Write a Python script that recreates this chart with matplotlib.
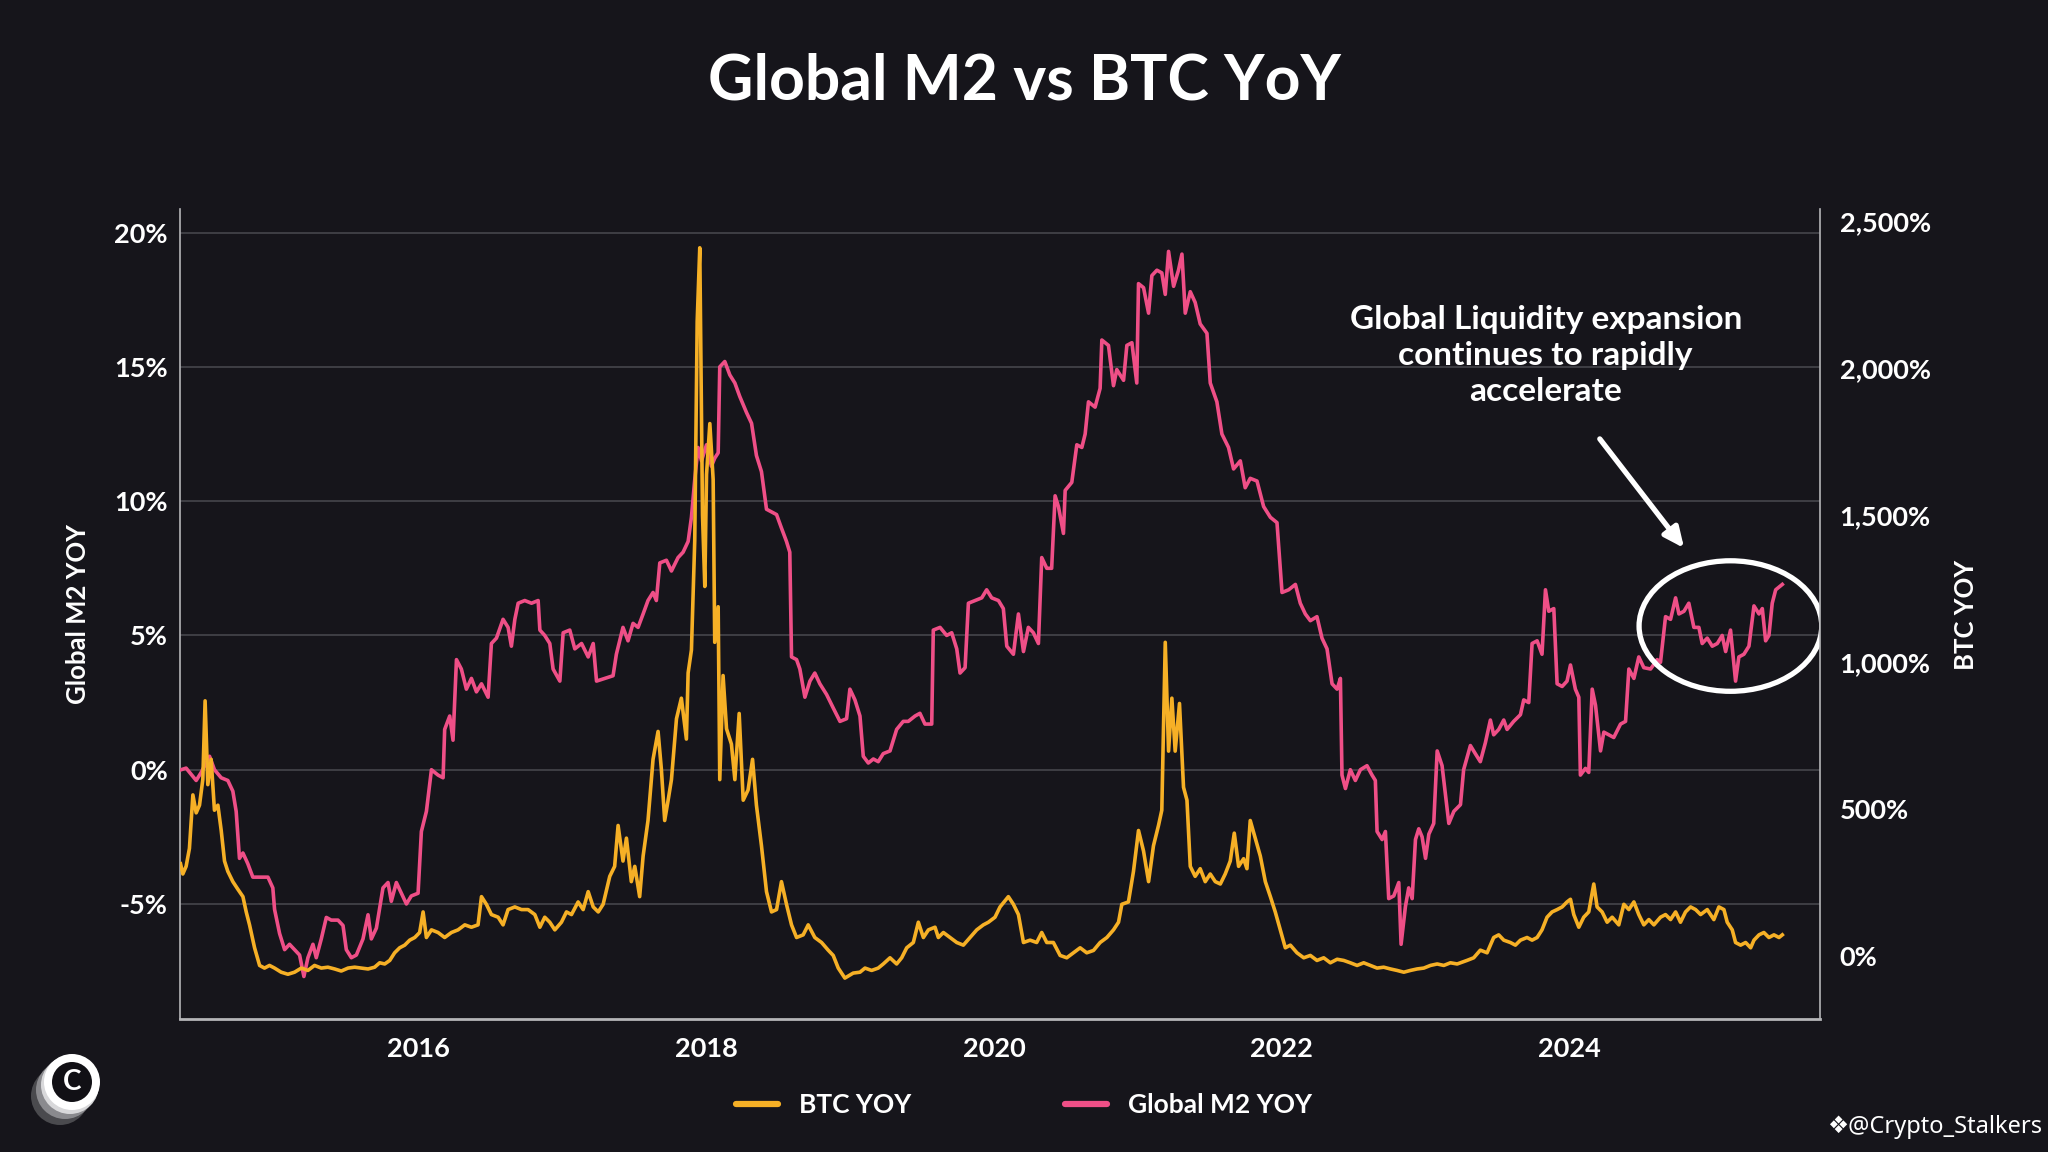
import matplotlib.pyplot as plt
from matplotlib.patches import Ellipse

# colours
BG = "#16151b"
PINK = "#ef4f87"
ORANGE = "#f6b026"
SPINE = "#b5b5b8"
GRID = "#4a4a50"

# Global M2 YoY (%) - decimal year / value
m2_years = [
    2014.346, 2014.381, 2014.451, 2014.486, 2014.544, 2014.578, 2014.625, 2014.671,
    2014.706, 2014.729, 2014.752, 2014.776, 2014.810, 2014.845, 2014.903, 2014.950,
    2014.984, 2014.996, 2015.031, 2015.066, 2015.100, 2015.135, 2015.170, 2015.200,
    2015.228, 2015.263, 2015.286, 2015.321, 2015.356, 2015.390, 2015.437, 2015.472,
    2015.495, 2015.530, 2015.565, 2015.611, 2015.646, 2015.669, 2015.704, 2015.750,
    2015.785, 2015.808, 2015.843, 2015.878, 2015.913, 2015.947, 2015.994, 2016.017,
    2016.052, 2016.087, 2016.133, 2016.168, 2016.179, 2016.214, 2016.237, 2016.261,
    2016.295, 2016.330, 2016.365, 2016.400, 2016.435, 2016.481, 2016.504, 2016.539,
    2016.585, 2016.620, 2016.643, 2016.667, 2016.690, 2016.736, 2016.783, 2016.829,
    2016.841, 2016.875, 2016.910, 2016.933, 2016.980, 2017.003, 2017.049, 2017.084,
    2017.131, 2017.177, 2017.212, 2017.235, 2017.293,
    2017.350, 2017.373, 2017.419, 2017.454, 2017.489, 2017.524, 2017.559, 2017.593,
    2017.628, 2017.651, 2017.675, 2017.721, 2017.756, 2017.802, 2017.837, 2017.872,
    2017.895, 2017.918, 2017.941, 2017.965, 2018.000, 2018.034, 2018.057, 2018.081,
    2018.092, 2018.127, 2018.162, 2018.197, 2018.231, 2018.278, 2018.313, 2018.347,
    2018.382, 2018.417, 2018.452, 2018.487, 2018.521, 2018.556, 2018.579, 2018.591,
    2018.626, 2018.649, 2018.684, 2018.719, 2018.753, 2018.788, 2018.835, 2018.881,
    2018.928, 2018.974, 2018.997, 2019.032, 2019.067, 2019.090, 2019.125, 2019.160,
    2019.194, 2019.229, 2019.276, 2019.322, 2019.368, 2019.403, 2019.450, 2019.484,
    2019.519, 2019.566, 2019.577, 2019.624, 2019.670, 2019.705, 2019.740, 2019.763,
    2019.798, 2019.821, 2019.867, 2019.914, 2019.948, 2019.983, 2020.030, 2020.064,
    2020.088, 2020.134, 2020.169, 2020.204, 2020.238, 2020.273, 2020.308, 2020.331,
    2020.366, 2020.400, 2020.424,
    2020.447, 2020.482, 2020.494, 2020.540, 2020.575, 2020.610, 2020.633, 2020.656,
    2020.702, 2020.737, 2020.749, 2020.795, 2020.830, 2020.853, 2020.900, 2020.923,
    2020.958, 2020.992, 2021.004, 2021.039, 2021.074, 2021.097, 2021.132, 2021.166,
    2021.190, 2021.213, 2021.248, 2021.282, 2021.306, 2021.329, 2021.364, 2021.398,
    2021.433, 2021.480, 2021.503, 2021.549, 2021.584, 2021.630, 2021.665, 2021.712,
    2021.746, 2021.781, 2021.828, 2021.874, 2021.921, 2021.967, 2022.002, 2022.048,
    2022.095, 2022.129, 2022.164, 2022.199, 2022.245, 2022.280, 2022.315, 2022.350,
    2022.385, 2022.408, 2022.419, 2022.443, 2022.477, 2022.512, 2022.547, 2022.593,
    2022.628, 2022.651, 2022.663, 2022.698, 2022.721, 2022.744, 2022.779, 2022.814,
    2022.830, 2022.860, 2022.883, 2022.907, 2022.930, 2022.953, 2022.976, 2023.000,
    2023.023, 2023.057, 2023.081, 2023.115, 2023.162, 2023.197, 2023.243,
    2023.265, 2023.312, 2023.346, 2023.381, 2023.416, 2023.451, 2023.474, 2023.509,
    2023.544, 2023.567, 2023.613, 2023.660, 2023.683, 2023.718, 2023.741, 2023.776,
    2023.810, 2023.834, 2023.857, 2023.892, 2023.915, 2023.950, 2023.984, 2024.008,
    2024.042, 2024.066, 2024.077, 2024.112, 2024.135, 2024.159, 2024.182, 2024.217,
    2024.240, 2024.275, 2024.309, 2024.356, 2024.391, 2024.414, 2024.449, 2024.483,
    2024.518, 2024.565, 2024.611, 2024.634, 2024.669, 2024.704, 2024.739, 2024.762,
    2024.797, 2024.831, 2024.866, 2024.901, 2024.924, 2024.959, 2024.994, 2025.029,
    2025.063, 2025.087, 2025.121, 2025.156, 2025.179, 2025.214, 2025.249, 2025.284,
    2025.319, 2025.342, 2025.365, 2025.388, 2025.411, 2025.435, 2025.481,
]
m2_yoy = [
    0.0, 0.06, -0.4, -0.1, 0.5, 0.0, -0.3, -0.4,
    -0.8, -1.55, -3.3, -3.1, -3.5, -4.0, -4.0, -4.0,
    -4.4, -5.2, -6.1, -6.7, -6.5, -6.7, -6.9, -7.7,
    -7.0, -6.5, -7.0, -6.3, -5.5, -5.6, -5.6, -5.8,
    -6.7, -7.0, -6.9, -6.3, -5.4, -6.3, -5.9, -4.4,
    -4.2, -4.9, -4.2, -4.6, -5.0, -4.7, -4.6, -2.3,
    -1.55, 0.0, -0.2, -0.3, 1.5, 2.0, 1.1, 4.1,
    3.75, 3.0, 3.4, 2.9, 3.2, 2.7, 4.7, 4.9,
    5.6, 5.3, 4.6, 5.6, 6.2, 6.3, 6.2, 6.3,
    5.2, 5.0, 4.7, 3.75, 3.3, 5.1, 5.2, 4.5,
    4.7, 4.2, 4.7, 3.3, 3.4,
    3.5, 4.3, 5.3, 4.8, 5.45, 5.3, 5.8, 6.3,
    6.6, 6.3, 7.7, 7.8, 7.4, 7.9, 8.1, 8.5,
    9.4, 10.8, 12.0, 11.5, 12.1, 11.3, 11.6, 11.8,
    15.0, 15.2, 14.7, 14.4, 13.9, 13.3, 12.9, 11.7,
    11.1, 9.7, 9.6, 9.5, 9.0, 8.5, 8.1, 4.2,
    4.1, 3.75, 2.7, 3.3, 3.6, 3.2, 2.8, 2.3,
    1.8, 1.9, 3.0, 2.6, 2.0, 0.5, 0.25, 0.4,
    0.3, 0.6, 0.7, 1.5, 1.8, 1.8, 2.0, 2.1,
    1.7, 1.7, 5.2, 5.3, 5.0, 5.1, 4.5, 3.6,
    3.8, 6.2, 6.3, 6.4, 6.7, 6.4, 6.3, 6.0,
    4.6, 4.3, 5.8, 4.4, 5.3, 5.1, 4.7, 7.9,
    7.5, 7.5, 10.2,
    9.8, 8.8, 10.4, 10.7, 12.1, 12.0, 12.5, 13.7,
    13.5, 14.2, 16.0, 15.8, 14.3, 14.9, 14.5, 15.8,
    15.9, 14.4, 18.1, 17.95, 17.0, 18.4, 18.6, 18.5,
    17.7, 19.3, 18.0, 18.6, 19.2, 17.0, 17.8, 17.4,
    16.6, 16.25, 14.4, 13.7, 12.5, 12.0, 11.2, 11.5,
    10.5, 10.85, 10.75, 9.8, 9.4, 9.2, 6.6, 6.7,
    6.9, 6.2, 5.8, 5.55, 5.7, 4.9, 4.5, 3.2,
    3.0, 3.4, -0.2, -0.7, 0.0, -0.4, 0.0, 0.15,
    -0.2, -0.4, -2.3, -2.6, -2.3, -4.8, -4.7, -4.2,
    -6.5, -5.1, -4.4, -4.8, -2.6, -2.2, -2.5, -3.3,
    -2.4, -2.0, 0.7, 0.15, -2.0, -1.55, -1.3,
    0.0, 0.9, 0.6, 0.3, 1.0, 1.85, 1.3, 1.5,
    1.85, 1.5, 1.8, 2.05, 2.6, 2.5, 4.7, 4.8,
    4.3, 6.7, 5.9, 6.0, 3.2, 3.1, 3.3, 3.9,
    3.0, 2.7, -0.2, 0.05, -0.1, 3.0, 2.4, 0.7,
    1.4, 1.3, 1.2, 1.7, 1.8, 3.75, 3.4, 4.2,
    3.8, 3.75, 4.1, 4.0, 5.7, 5.6, 6.4, 5.8,
    5.9, 6.2, 5.3, 5.3, 4.7, 4.9, 4.6, 4.7,
    5.0, 4.4, 5.2, 3.3, 4.2, 4.3, 4.6, 6.1,
    5.8, 6.0, 4.8, 5.0, 6.2, 6.7, 6.9,
]

# BTC YoY (%) - decimal year / value
btc_years = [
    2014.342, 2014.358, 2014.381, 2014.404, 2014.428, 2014.451, 2014.474, 2014.497,
    2014.513, 2014.532, 2014.555, 2014.578, 2014.602, 2014.625, 2014.648, 2014.671,
    2014.706, 2014.741, 2014.776, 2014.799, 2014.822, 2014.857, 2014.892, 2014.926,
    2014.961, 2014.996, 2015.042, 2015.089, 2015.135, 2015.182, 2015.228, 2015.274,
    2015.321, 2015.367, 2015.414, 2015.460, 2015.507, 2015.553, 2015.599, 2015.646,
    2015.692, 2015.727, 2015.762, 2015.797, 2015.831, 2015.866, 2015.901, 2015.936,
    2015.971, 2016.005, 2016.029, 2016.052, 2016.087, 2016.133, 2016.179, 2016.226,
    2016.272, 2016.319, 2016.365, 2016.411, 2016.435, 2016.469, 2016.504, 2016.551,
    2016.585, 2016.620, 2016.667, 2016.713, 2016.759, 2016.806, 2016.841, 2016.875,
    2016.910, 2016.945, 2016.991, 2017.026, 2017.061, 2017.107, 2017.142, 2017.177,
    2017.212, 2017.247, 2017.281,
    2017.327, 2017.361, 2017.385, 2017.419, 2017.443, 2017.477, 2017.501, 2017.535,
    2017.559, 2017.593, 2017.628, 2017.663, 2017.686, 2017.709, 2017.733, 2017.756,
    2017.791, 2017.825, 2017.860, 2017.872, 2017.895, 2017.918, 2017.935, 2017.953,
    2017.972, 2017.988, 2018.000, 2018.023, 2018.046, 2018.057, 2018.081, 2018.092,
    2018.115, 2018.139, 2018.173, 2018.197, 2018.227, 2018.255, 2018.289, 2018.320,
    2018.347, 2018.382, 2018.417, 2018.452, 2018.487, 2018.521, 2018.556, 2018.591,
    2018.626, 2018.672, 2018.707, 2018.753, 2018.800, 2018.846, 2018.881, 2018.916,
    2018.962, 2019.020, 2019.067, 2019.102, 2019.148, 2019.194, 2019.229, 2019.276,
    2019.322, 2019.357, 2019.392, 2019.438, 2019.473, 2019.508, 2019.543, 2019.589,
    2019.612, 2019.647, 2019.693, 2019.740, 2019.786, 2019.832, 2019.879, 2019.925,
    2019.960, 2020.006, 2020.041, 2020.099, 2020.134, 2020.169, 2020.204, 2020.250,
    2020.296, 2020.331, 2020.366, 2020.412, 2020.459, 2020.505, 2020.552, 2020.598,
    2020.644, 2020.691, 2020.737, 2020.784, 2020.830, 2020.865, 2020.888, 2020.934,
    2020.969, 2021.004, 2021.039, 2021.074, 2021.108, 2021.143, 2021.166, 2021.190,
    2021.213, 2021.236, 2021.259, 2021.289, 2021.317, 2021.341, 2021.364, 2021.398,
    2021.433, 2021.468, 2021.503, 2021.538, 2021.573, 2021.607, 2021.642, 2021.670,
    2021.700, 2021.735, 2021.758, 2021.781, 2021.816, 2021.851, 2021.886, 2021.921,
    2021.955, 2021.990, 2022.025, 2022.060, 2022.106, 2022.153, 2022.199, 2022.245,
    2022.292, 2022.338, 2022.385, 2022.431, 2022.477, 2022.524, 2022.570, 2022.617,
    2022.663, 2022.709, 2022.756, 2022.802, 2022.849, 2022.895, 2022.941, 2022.988,
    2023.034, 2023.081, 2023.127, 2023.173, 2023.220,
    2023.288, 2023.335, 2023.381, 2023.428, 2023.474, 2023.509, 2023.544, 2023.590,
    2023.625, 2023.660, 2023.706, 2023.741, 2023.776, 2023.810, 2023.845, 2023.880,
    2023.915, 2023.950, 2023.984, 2024.008, 2024.031, 2024.066, 2024.100, 2024.135,
    2024.170, 2024.193, 2024.228, 2024.263, 2024.298, 2024.344, 2024.379, 2024.414,
    2024.449, 2024.483, 2024.518, 2024.553, 2024.588, 2024.634, 2024.669, 2024.704,
    2024.739, 2024.773, 2024.808, 2024.843, 2024.878, 2024.913, 2024.959, 2025.005,
    2025.040, 2025.075, 2025.098, 2025.133, 2025.156, 2025.191, 2025.226, 2025.261,
    2025.284, 2025.319, 2025.353, 2025.388, 2025.423, 2025.458, 2025.481,
]
btc_yoy = [
    315, 280, 306, 367, 549, 488, 514, 601,
    869, 584, 670, 497, 514, 428, 324, 289,
    254, 228, 203, 151, 107, 29, -31, -40,
    -31, -40, -54, -61, -54, -40, -48, -31,
    -40, -37, -43, -50, -40, -37, -40, -43,
    -37, -22, -26, -14, 12, 29, 38, 55,
    64, 81, 151, 64, 90, 81, 64, 81,
    90, 107, 99, 107, 203, 177, 142, 133,
    107, 159, 168, 159, 159, 142, 99, 133,
    116, 90, 116, 151, 142, 185, 159, 220,
    168, 151, 177,
    272, 306, 445, 324, 402, 254, 306, 203,
    341, 462, 670, 765, 636, 462, 531, 601,
    808, 878, 739, 964, 1042, 1414, 2159, 2410,
    1501, 1258, 1639, 1812, 1622, 1068, 1189, 601,
    955, 774, 722, 601, 826, 531, 566, 670,
    514, 376, 220, 151, 159, 254, 177, 107,
    64, 73, 107, 64, 47, 21, 3, -40,
    -74, -57, -54, -40, -48, -40, -26, -5,
    -26, -5, 29, 47, 116, 64, 90, 99,
    64, 81, 64, 47, 38, 64, 90, 107,
    116, 133, 168, 203, 177, 142, 47, 55,
    47, 81, 47, 47, 3, -5, 12, 29,
    12, 20, 47, 64, 90, 116, 177, 185,
    289, 428, 358, 254, 376, 445, 497, 1068,
    698, 878, 698, 860, 575, 531, 306, 272,
    298, 254, 280, 254, 246, 280, 324, 419,
    306, 332, 298, 462, 402, 341, 254, 203,
    151, 90, 29, 38, 12, -5, 3, -14,
    -5, -22, -10, -14, -22, -31, -22, -31,
    -40, -37, -43, -48, -54, -48, -43, -40,
    -31, -26, -31, -22, -26,
    -14, -5, 21, 12, 64, 73, 55, 47,
    38, 55, 64, 55, 64, 90, 133, 151,
    159, 168, 185, 194, 142, 99, 133, 151,
    246, 168, 151, 116, 133, 107, 177, 159,
    185, 142, 107, 125, 107, 133, 142, 125,
    151, 116, 151, 168, 159, 142, 159, 125,
    168, 159, 116, 90, 47, 38, 47, 29,
    55, 73, 81, 64, 73, 64, 73,
]

year_ticks = [2016, 2018, 2020, 2022, 2024]
m2_ticks = [-5, 0, 5, 10, 15, 20]
btc_ticks = [0, 500, 1000, 1500, 2000, 2500]

title = "Global M2 vs BTC YoY"
note = "Global Liquidity expansion\ncontinues to rapidly\naccelerate"

W, H = 2048, 1152

plt.rcParams["font.family"] = ["Lato", "DejaVu Sans"]
plt.rcParams["font.weight"] = "bold"

fig = plt.figure(figsize=(W / 100, H / 100), dpi=100, facecolor=BG)
ax = fig.add_axes([0.088, 0.1155, 0.8008, 0.7031])
ax.set_facecolor(BG)
ax2 = ax.twinx()
ax2.patch.set_visible(False)

ax.plot(m2_years, m2_yoy, color=PINK, lw=2.6, zorder=3)
ax2.plot(btc_years, btc_yoy, color=ORANGE, lw=2.6, zorder=3)

ax.set_xlim(2014.34, 2025.745)
ax.set_ylim(-9.28, 20.88)
ax2.set_ylim(-213, 2542)

ax.set_xticks(year_ticks)
ax.set_xticklabels([str(y) for y in year_ticks])
ax.set_yticks(m2_ticks)
ax.set_yticklabels([f"{v}%" for v in m2_ticks])
ax2.set_yticks(btc_ticks)
ax2.set_yticklabels([f"{v:,}%" for v in btc_ticks])

ax.grid(axis="y", color=GRID, lw=1.1, zorder=0)
ax.set_axisbelow(True)

for a in (ax, ax2):
    a.tick_params(axis="both", length=0, colors="white", labelsize=19.5)
    for side in ("top", "left", "right", "bottom"):
        a.spines[side].set_visible(False)
ax.tick_params(axis="y", pad=9)
ax.tick_params(axis="x", pad=13)
ax2.tick_params(axis="y", pad=14)
ax.spines["left"].set_visible(True)
ax.spines["bottom"].set_visible(True)
ax2.spines["right"].set_visible(True)
ax.spines["left"].set_color(SPINE)
ax.spines["bottom"].set_color(SPINE)
ax2.spines["right"].set_color(SPINE)
ax.spines["left"].set_linewidth(1.2)
ax.spines["bottom"].set_linewidth(2.0)
ax2.spines["right"].set_linewidth(1.2)

fig.text(0.5, 0.929, title, ha="center", va="center", color="white",
         fontsize=45, fontweight="bold")
fig.text(0.038, 0.467, "Global M2 YOY", rotation=90, ha="center", va="center",
         color="white", fontsize=18.5)
fig.text(0.96, 0.466, "BTC YOY", rotation=90, ha="center", va="center",
         color="white", fontsize=18.5)

# annotation
ax.text(2023.836, 15.42, note, ha="center", va="center", color="white",
        fontsize=24, fontweight="bold", linespacing=1.3, zorder=5)
ax.annotate("", xy=(2024.81, 8.17), xytext=(2024.2, 12.4),
            arrowprops=dict(arrowstyle="-|>,head_length=1.2,head_width=0.55",
                            color="white", lw=3.8), zorder=5)
ax.add_patch(Ellipse((2025.12, 5.35), 1.27, 4.86, fill=False,
                     edgecolor="white", lw=3.8, zorder=5))

# legend
handles = [plt.Line2D([], [], color=ORANGE, lw=4.5, solid_capstyle="round"),
           plt.Line2D([], [], color=PINK, lw=4.5, solid_capstyle="round")]
leg = fig.legend(handles, ["BTC YOY", "Global M2 YOY"], loc="center",
                 bbox_to_anchor=(0.5, 0.041), ncol=2, frameon=False,
                 fontsize=19, handlelength=1.6, handletextpad=0.8,
                 columnspacing=5.8)
for t in leg.get_texts():
    t.set_color("white")


# logo bottom left (round in pixel terms)
def disc(cx, cy, r, color):
    fig.patches.append(Ellipse((cx / W, 1 - cy / H), 2 * r / W, 2 * r / H,
                               transform=fig.transFigure, facecolor=color,
                               edgecolor="none"))


disc(60, 1096, 29, "#4a4a4e")
disc(65, 1090, 29, "#8a8a8e")
disc(70, 1085, 29, "#d8d8da")
disc(72, 1082, 28, "white")
disc(72, 1082, 20, "#111015")
fig.text(72 / W, 1 - 1082 / H, "C", ha="center", va="center", color="white",
         fontsize=20, fontweight="bold")

# watermark
fig.text(0.997, 0.022, "\u2756@Crypto_Stalkers", ha="right", va="center",
         color="white", fontsize=17, fontweight="normal",
         family=["Noto Sans", "DejaVu Sans"])

fig.savefig("out.png", dpi=100, facecolor=BG)
